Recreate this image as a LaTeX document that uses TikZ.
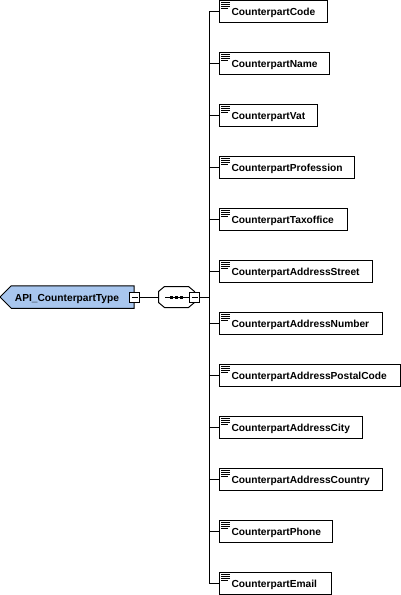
\documentclass[tikz,border=0pt]{standalone}
\usepackage{fontspec}
\setmainfont{Liberation Sans}
\usetikzlibrary{positioning,shapes.misc}

\definecolor{typeblue}{RGB}{168,198,238}

\begin{document}
\begin{tikzpicture}[x=1pt,y=-1pt,line width=1pt,
  every node/.style={font=\fontsize{10.2}{12}\selectfont\bfseries},
  typebox/.style={draw,fill=typeblue,chamfered rectangle,
    chamfered rectangle corners={north west,south west},
    chamfered rectangle xsep=7pt,chamfered rectangle ysep=7pt,
    minimum width=134pt,minimum height=22pt,inner sep=0pt,
    text height=8.5pt,text depth=0pt},
  seqbox/.style={draw,fill=white,minimum width=35pt,minimum height=20pt,inner sep=0pt},
  minusbox/.style={draw,fill=white,rectangle,minimum size=10pt,inner sep=0pt,
    path picture={\draw[line width=1pt] ([xshift=2pt]path picture bounding box.west)
      -- ([xshift=-2pt]path picture bounding box.east);}},
  elembox/.style={draw,rectangle,anchor=west,minimum height=22pt,
    inner xsep=12pt,inner ysep=0pt,align=left,
    text height=9pt,text depth=0pt}]

\useasboundingbox (0,0) rectangle (400,595);

\node [typebox] at (67,297) (api) {API\_CounterpartType};
\node [minusbox] at (api.east) (apiminus) {};

% sequence compositor
\node [seqbox] at (176.5,297) (seq) {};
\fill[white] (seq.north west) rectangle (seq.south east);
\draw ([xshift=6pt]seq.north west) -- ([xshift=-6pt]seq.north east)
  -- ([yshift=-5pt]seq.north east) -- ([yshift=5pt]seq.south east)
  -- ([xshift=-6pt]seq.south east) -- ([xshift=6pt]seq.south west)
  -- ([yshift=5pt]seq.south west) -- ([yshift=-5pt]seq.north west) -- cycle;
\node [minusbox] at (seq.east) (seqminus) {};
\coordinate (branch) at (209,297);

\draw (apiminus.east) -- (seq.west);
\draw (seqminus.east) -- (branch);

% sequence dots
\draw ([xshift=-11.5pt]seq.center) -- (seqminus.west);
\foreach \dx in {-5.5,-0.5,4.5}
  \fill ([xshift=\dx pt]seq.center) +(-1.5,-1.5) rectangle +(1.5,1.5);

% child elements
\foreach \name/\w [count=\i] in {Code/108,Name/110,Vat/98,Profession/135,
    Taxoffice/128,AddressStreet/153,AddressNumber/163,AddressPostalCode/180.5,
    AddressCity/143,AddressCountry/163,Phone/113,Email/112} {
  \pgfmathsetmacro\tw{\w-24}
  \node [elembox,text width=\tw pt] at (219,{11+52*(\i-1)}) (el\i) {Counterpart\name};
  \draw (branch) |- (el\i.west);
  \draw[line width=0.8pt] ([shift={(2,2.5)}]el\i.north west) -- ++(9,0)
    ([shift={(2,4.5)}]el\i.north west) -- ++(9,0)
    ([shift={(2,6.5)}]el\i.north west) -- ++(9,0)
    ([shift={(2,8.5)}]el\i.north west) -- ++(7,0);
}

\end{tikzpicture}
\end{document}
